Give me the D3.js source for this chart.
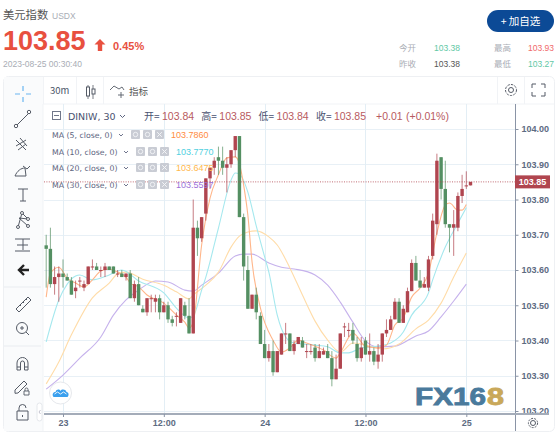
<!DOCTYPE html>
<html><head><meta charset="utf-8">
<script src="https://cdnjs.cloudflare.com/ajax/libs/d3/7.8.5/d3.min.js"></script>
<style>html,body{margin:0;padding:0;background:#fff;overflow:hidden}svg{display:block;font-family:"Noto Sans CJK SC","Liberation Sans",Arial,sans-serif}</style>
</head><body><svg id="c" width="559" height="434"></svg>
<script>
// candles start one step per 30 minutes; index 0 is the "23" tick
const firstIndex = -4;
const opens = [103.67,103.66,103.56,103.58,103.59,103.58,103.57,103.54,103.57,103.55,103.56,103.61,103.61,103.60,103.60,103.61,103.61,103.59,103.59,103.58,103.59,103.52,103.56,103.49,103.48,103.52,103.51,103.52,103.48,103.50,103.46,103.47,103.45,103.50,103.47,103.42,103.72,103.69,103.76,103.86,103.89,103.92,103.91,103.89,103.90,103.94,103.98,103.75,103.60,103.49,103.53,103.47,103.39,103.35,103.37,103.31,103.36,103.42,103.42,103.37,103.39,103.40,103.37,103.37,103.38,103.35,103.36,103.37,103.35,103.29,103.32,103.44,103.43,103.43,103.39,103.35,103.40,103.36,103.37,103.34,103.36,103.42,103.43,103.46,103.51,103.45,103.48,103.54,103.62,103.57,103.55,103.55,103.64,103.73,103.92,103.83,103.73,103.72,103.72,103.81,103.84,103.84];
const highs = [103.70,103.72,103.61,103.61,103.63,103.59,103.58,103.57,103.58,103.57,103.61,103.63,103.62,103.61,103.62,103.61,103.61,103.60,103.60,103.59,103.60,103.57,103.58,103.50,103.52,103.53,103.53,103.53,103.51,103.51,103.47,103.48,103.52,103.51,103.52,103.80,103.74,103.75,103.86,103.89,103.92,103.95,103.95,103.92,103.94,103.98,103.98,103.76,103.64,103.53,103.55,103.48,103.43,103.39,103.40,103.37,103.42,103.45,103.42,103.40,103.41,103.41,103.39,103.39,103.39,103.39,103.38,103.39,103.37,103.36,103.42,103.45,103.45,103.45,103.41,103.41,103.41,103.42,103.38,103.39,103.42,103.46,103.47,103.52,103.52,103.50,103.55,103.63,103.64,103.60,103.58,103.64,103.76,103.93,103.92,103.91,103.73,103.77,103.82,103.87,103.88,103.85];
const lows = [103.55,103.55,103.53,103.51,103.55,103.57,103.53,103.52,103.55,103.54,103.56,103.60,103.60,103.58,103.58,103.60,103.59,103.58,103.58,103.57,103.52,103.51,103.50,103.48,103.47,103.48,103.48,103.46,103.48,103.45,103.44,103.44,103.45,103.46,103.42,103.42,103.64,103.68,103.74,103.83,103.87,103.87,103.87,103.82,103.89,103.92,103.75,103.57,103.49,103.49,103.46,103.39,103.35,103.34,103.30,103.31,103.36,103.39,103.37,103.36,103.39,103.38,103.35,103.36,103.34,103.35,103.36,103.35,103.27,103.29,103.32,103.41,103.41,103.39,103.34,103.34,103.36,103.34,103.33,103.32,103.34,103.41,103.43,103.46,103.45,103.45,103.48,103.54,103.57,103.55,103.55,103.54,103.63,103.70,103.80,103.72,103.65,103.64,103.71,103.79,103.83,103.84];
const closes = [103.66,103.56,103.58,103.59,103.58,103.57,103.53,103.55,103.57,103.56,103.61,103.61,103.60,103.60,103.61,103.60,103.59,103.59,103.58,103.59,103.52,103.56,103.50,103.48,103.52,103.52,103.52,103.48,103.50,103.46,103.45,103.47,103.52,103.47,103.42,103.72,103.69,103.75,103.86,103.89,103.91,103.91,103.89,103.90,103.94,103.98,103.75,103.61,103.49,103.53,103.48,103.39,103.35,103.37,103.31,103.37,103.42,103.42,103.37,103.39,103.41,103.38,103.37,103.37,103.35,103.37,103.37,103.35,103.29,103.32,103.42,103.44,103.43,103.40,103.35,103.38,103.36,103.37,103.34,103.36,103.42,103.43,103.46,103.51,103.45,103.49,103.54,103.62,103.57,103.55,103.56,103.63,103.74,103.91,103.83,103.73,103.72,103.73,103.81,103.83,103.84,103.85];

const ma5Idx = [-4,-3,-1,1,3,5,7,9,11,13,15,16,18,20,24,27,29,30,31,33,35,37,39,41,42,43,44,45,47,50,52,54,56,58,62,65,66,69,72,75,77,79,81,83,85,87,89,91,92,94,95,96];
const ma5Val = [103.523,103.591,103.608,103.577,103.563,103.552,103.572,103.597,103.603,103.594,103.580,103.563,103.552,103.529,103.506,103.472,103.452,103.435,103.452,103.671,103.804,103.870,103.918,103.921,103.901,103.841,103.756,103.623,103.492,103.401,103.367,103.379,103.401,103.393,103.373,103.350,103.365,103.421,103.384,103.379,103.387,103.444,103.464,103.523,103.549,103.591,103.705,103.784,103.790,103.770,103.770,103.786];
const ma10Idx = [-4,-1,1,3,4,7,11,14,18,24,27,30,31,33,34,37,40,41,42,44,46,48,49,51,53,55,60,63,66,68,71,75,78,81,83,87,88,91,94,96];
const ma10Val = [103.396,103.515,103.560,103.583,103.586,103.572,103.586,103.600,103.569,103.535,103.492,103.464,103.469,103.543,103.580,103.719,103.855,103.875,103.872,103.821,103.725,103.637,103.594,103.472,103.410,103.393,103.387,103.382,103.365,103.365,103.379,103.384,103.393,103.424,103.472,103.535,103.572,103.665,103.733,103.777];
const ma20Idx = [-4,-1,2,7,11,13,15,19,24,27,30,31,34,37,40,42,44,46,49,51,54,57,60,63,66,69,72,76,80,84,87,90,93,96];
const ma20Val = [103.277,103.339,103.416,103.521,103.563,103.589,103.594,103.574,103.557,103.538,103.518,103.529,103.557,103.594,103.665,103.696,103.708,103.711,103.694,103.671,103.606,103.529,103.455,103.401,103.367,103.393,103.387,103.376,103.390,103.433,103.458,103.506,103.580,103.648];
const ma30Idx = [-4,0,4,9,12,15,18,22,25,29,31,33,37,41,43,45,49,52,55,60,63,66,69,72,75,79,84,87,90,93,96];
const ma30Val = [103.262,103.302,103.350,103.410,103.472,103.515,103.543,103.569,103.566,103.543,103.540,103.557,103.591,103.640,103.645,103.645,103.620,103.608,103.603,103.586,103.557,103.509,103.452,103.399,103.382,103.384,103.413,103.427,103.467,103.512,103.560];

const priceTicks = [103.2,103.3,103.4,103.5,103.6,103.7,103.8,103.9,104.0];
const timeTicks = [0,24,48,72,96];
const timeLabels = ["23","12:00","24","12:00","25"];
const lastPrice = 103.85;
const maNames = ["MA (5, close, 0)","MA (10, close, 0)","MA (20, close, 0)","MA (30, close, 0)"];
const maLabels = ["103.7860","103.7770","103.6475","103.5597"];
const maColors = ["#ffb68a","#a5e8ee","#ffdca8","#c6b2ec"];
const maTextColors = ["#ff8c42","#4fd0e0","#ffb84d","#9a6fd8"];

const RED="#b0454f", GREEN="#548f62";
const svg=d3.select("#c");
const x=d3.scaleLinear().domain([0,96]).range([63,466.3]);
const y=d3.scaleLinear().domain([103.2,104]).range([411,129]);
const L=44,R=515,T=104,B=414;

// frame
svg.append("rect").attr("x",3.5).attr("y",76.5).attr("width",551).attr("height",355).attr("rx",5).attr("fill","#fff").attr("stroke","#eef0f3");
svg.append("rect").attr("x",4).attr("y",77).attr("width",39).attr("height",354).attr("fill","#fafbfc");
svg.append("line").attr("x1",43).attr("x2",554).attr("y1",104).attr("y2",104).attr("stroke","#f1f3f6");
[43,76,103,497,524].forEach(v=>svg.append("line").attr("x1",v+.5).attr("x2",v+.5).attr("y1",77).attr("y2",104).attr("stroke","#f1f3f6"));

// grid
const grid=svg.append("g");
grid.selectAll("line.h").data(priceTicks).join("line").attr("x1",L).attr("x2",R).attr("y1",d=>Math.round(y(d))+.5).attr("y2",d=>Math.round(y(d))+.5).attr("stroke","#e8f0f6");
grid.selectAll("line.v").data(timeTicks).join("line").attr("class","v").attr("y1",T).attr("y2",B).attr("x1",d=>Math.round(x(d))+.5).attr("x2",d=>Math.round(x(d))+.5).attr("stroke","#e3eef5");

// moving averages
const line=d3.line().curve(d3.curveMonotoneX);
[[ma30Idx,ma30Val,3],[ma20Idx,ma20Val,2],[ma10Idx,ma10Val,1],[ma5Idx,ma5Val,0]].forEach(([ix,v,k])=>{
  svg.append("path").attr("fill","none").attr("stroke",maColors[k]).attr("stroke-width",1.1).attr("d",line(ix.map((d,i)=>[x(d),y(v[i])])));
});

// candles
const idx=opens.map((_,i)=>i+firstIndex);
const g=svg.append("g");
g.selectAll("line").data(idx).join("line")
 .attr("x1",d=>x(d)).attr("x2",d=>x(d))
 .attr("y1",d=>y(highs[d-firstIndex])).attr("y2",d=>y(lows[d-firstIndex]))
 .attr("stroke",d=>closes[d-firstIndex]>=opens[d-firstIndex]?RED:GREEN).attr("stroke-width",1).attr("opacity",.7);
g.selectAll("rect").data(idx).join("rect")
 .attr("x",d=>x(d)-1.7).attr("width",3.4)
 .attr("y",d=>y(Math.max(opens[d-firstIndex],closes[d-firstIndex])))
 .attr("height",d=>Math.max(1,Math.abs(y(opens[d-firstIndex])-y(closes[d-firstIndex]))))
 .attr("fill",d=>closes[d-firstIndex]>=opens[d-firstIndex]?RED:GREEN);

// last price line
svg.append("line").attr("x1",L).attr("x2",R).attr("y1",y(lastPrice)).attr("y2",y(lastPrice)).attr("stroke","#b0454f").attr("stroke-width",.8).attr("stroke-dasharray","1 1.4");

// axes
const ya=svg.append("g").attr("transform",`translate(${R+.5},0)`).call(d3.axisRight(y).tickValues(priceTicks).tickFormat(d3.format(".2f")).tickSize(3).tickSizeOuter(0));
ya.select(".domain").attr("stroke","#8a94a6").attr("d",`M0,${T}V${431}`);
ya.selectAll(".tick line").attr("stroke","#8a94a6");
ya.selectAll(".tick text").attr("x",6).attr("fill","#5d6b82").attr("font-size",9).attr("font-family","Liberation Sans,Arial,sans-serif").attr("font-weight",600);
const xa=svg.append("g").attr("transform",`translate(0,${B})`).call(d3.axisBottom(x).tickValues(timeTicks).tickFormat((d,i)=>timeLabels[i]).tickSize(3).tickSizeOuter(0));
xa.select(".domain").attr("stroke","#a4acb9").attr("stroke-width",2).attr("d",`M${L},0H549`);
xa.selectAll(".tick line").attr("stroke","#8a94a6");
xa.selectAll(".tick text").attr("y",6).attr("fill","#5d6b82").attr("font-size",9).attr("font-family","Liberation Sans,Arial,sans-serif").attr("font-weight",600);
svg.append("line").attr("x1",43).attr("x2",43).attr("y1",104).attr("y2",431).attr("stroke","#f1f3f6");

// last price tag
svg.append("rect").attr("x",515).attr("y",y(lastPrice)-6.5).attr("width",35).attr("height",13).attr("fill",RED);
const txt=(s,px,py,size,fill,weight,anchor)=>svg.append("text").text(s).attr("x",px).attr("y",py).attr("font-size",size).attr("fill",fill).attr("font-weight",weight||400).attr("text-anchor",anchor||"start");
txt(lastPrice.toFixed(2),532.5,y(lastPrice)+3.2,9,"#fff",600,"middle").attr("font-family","Liberation Sans,Arial,sans-serif");

// header
txt("美元指数",3,19,11.3,"#555");
txt("USDX",52,19,8.5,"#a9adb5").attr("font-family","Liberation Sans,Arial,sans-serif");
txt("103.85",3,50,27,"#e8503f",700).attr("font-family","Liberation Sans,Arial,sans-serif");
svg.append("path").attr("d","M100 39l5.5 5.5h-3.3v6.5h-4.4v-6.5h-3.3z").attr("fill","#e8503f");
txt("0.45%",113,50,11,"#e8503f",700).attr("font-family","Liberation Sans,Arial,sans-serif");
txt("2023-08-25 00:30:40",3,67,8.5,"#a9adb5").attr("font-family","Liberation Sans,Arial,sans-serif");
svg.append("rect").attr("x",487).attr("y",10).attr("width",67).attr("height",22).attr("rx",11).attr("fill","#0c4a96");
txt("+ 加自选",520.5,25,10.5,"#fff",400,"middle");
[["今开",399,51,"103.38",434,"#62c8a5"],["最高",494,51,"103.93",528,"#f0696a"],["昨收",399,67,"103.38",434,"#555"],["最低",494,67,"103.27",528,"#62c8a5"]].forEach(r=>{
  txt(r[0],r[1],r[2],8.5,"#a9adb5");
  txt(r[3],r[4],r[2],8.5,r[5]).attr("font-family","Liberation Sans,Arial,sans-serif");
});

// toolbar
const ico=(d,w,c)=>svg.append("path").attr("d",d).attr("fill","none").attr("stroke",c||"#555b66").attr("stroke-width",w||1);
ico("M23 86v5M23 97v5M15 94h5M26 94h5",1.2,"#6ab6f0");
txt("30m",50,94,9.5,"#4a5568");
ico("M88 85v14M93 85v14",.8); svg.append("rect").attr("x",86.5).attr("y",87).attr("width",3).attr("height",9).attr("fill","#fff").attr("stroke","#555b66");
svg.append("rect").attr("x",92).attr("y",89).attr("width",3).attr("height",5).attr("fill","#fff").attr("stroke","#555b66");
ico("M110 90l4-4 5 3 3-2 2 3M121 92v6M118 95h6",.9);
txt("指标",129,95,9.5,"#555");
svg.append("circle").attr("cx",511).attr("cy",90).attr("r",2.5).attr("fill","none").attr("stroke","#555b66");
svg.append("circle").attr("cx",511).attr("cy",90).attr("r",5.5).attr("fill","none").attr("stroke","#555b66").attr("stroke-dasharray","2.4 1.2");
ico("M532 88v-4h4M541 84h4v4M545 92v4h-4M536 96h-4v-4",1);

// left tools
ico("M17 125l12-12",1); [[16,126],[29,112]].forEach(p=>svg.append("circle").attr("cx",p[0]).attr("cy",p[1]).attr("r",1.7).attr("fill","#fff").attr("stroke","#555b66"));
ico("M16 140l10 10M16 146l10-6M20 138l7 8M18 150l8-6",1);
ico("M15 176c2-5 6-8 10-8l1 8zM23 166l4 3 3-3",1);
ico("M18 189h10M23 189v12M20 201h6",1);
ico("M18 227l4-14 6 6-9-1 9 8",1); [[18,227],[22,213],[28,219],[28,226]].forEach(p=>svg.append("circle").attr("cx",p[0]).attr("cy",p[1]).attr("r",1.5).attr("fill","#fff").attr("stroke","#555b66"));
ico("M15 239h15M23 239v11M17 245h11M15 251h15",1);
ico("M29 270h-9M24 265l-5 5 5 5",2.4,"#222");
ico("M16 309l12-12 3 3-12 12zM20 305l1 1M23 302l1 1M26 299l1 1",1);
svg.append("circle").attr("cx",22).attr("cy",328).attr("r",5.5).attr("fill","none").attr("stroke","#555b66");
ico("M26 332l3 3M20 328h4M22 326v4",1);
ico("M17 370v-7a5.5 5.5 0 0 1 11 0v7h-3.5v-7a2 2 0 0 0-4 0v7zM17 367h3.5M24.5 367H28",1);
ico("M15 390l9-9 3 3-9 9-3 .3z",1);
ico("M24 391h5v4h-5zM25 391v-1.5a1.5 1.5 0 0 1 3 0V391",.9);
ico("M17 411h11v9H17zM19 411v-3a3.5 3.5 0 0 1 7 0M22.5 415v2",1);
svg.append("rect").attr("x",37).attr("y",403).attr("width",5).attr("height",18).attr("rx",2.5).attr("fill","#fff").attr("stroke","#e5e8ec");
ico("M40.5 410l-1.5 2 1.5 2",.7,"#aab");
[287,346].forEach(v=>svg.append("line").attr("x1",4).attr("x2",41).attr("y1",v).attr("y2",v).attr("stroke","#e9ecf0"));

// cloud button
svg.append("circle").attr("cx",60.5).attr("cy",393).attr("r",11).attr("fill","#fff").attr("stroke","#e6e8ec");
svg.append("path").attr("d","M53.5 397c-2-3 0-5 2-5 1-3 4-3 5-1 1-2 5-2 6 1 2 0 3 3 1 5z").attr("fill","#3ba0ee");
ico("M54.5 394l3-2 3 2 3-2 3 2",.9,"#fff");

// legend
svg.append("rect").attr("x",52.5).attr("y",111.5).attr("width",8).attr("height",8).attr("fill","none").attr("stroke","#70778a");
svg.append("line").attr("x1",54).attr("x2",59).attr("y1",115.5).attr("y2",115.5).attr("stroke","#70778a");
txt("DINIW, 30",68,120,10.5,"#4a5270",500).attr("font-family","DejaVu Sans,sans-serif").attr("font-size",9.5);
ico("M120 115l2.5 2.5 2.5-2.5",.9,"#4a5270");
const RV="#b85a60";
let ox=144;
[["开=","103.84"],["高=","103.85"],["低=","103.84"],["收=","103.85"]].forEach(p=>{
  txt(p[0],ox,120,10,"#4a5270");
  txt(p[1],ox+18,120,10.5,RV).attr("font-family","Liberation Sans,Arial,sans-serif");
  ox+=57.3;
});
txt("+0.01",376,120,10.5,RV).attr("font-family","Liberation Sans,Arial,sans-serif");
txt("(+0.01%)",406,120,10.5,RV).attr("font-family","Liberation Sans,Arial,sans-serif");
[135,152,168,185].forEach((py,i)=>{
  const ex=i?5:0;
  txt(maNames[i],52,py+3,8.5,"#5d6580").attr("font-family","DejaVu Sans,sans-serif").attr("font-size",7.8);
  ico(`M${119+ex} ${py-1}l2 2 2-2`,.8,"#4a5270");
  [131,143,155].forEach(bx=>{
    svg.append("rect").attr("x",bx+ex).attr("y",py-5).attr("width",9).attr("height",9).attr("rx",1).attr("fill","#c9ccd4");
    if(bx<155) svg.append("circle").attr("cx",bx+ex+4.5).attr("cy",py-.5).attr("r",2.2).attr("fill","none").attr("stroke","#f4f5f7").attr("stroke-width",.9);
    else ico(`M${bx+ex+2.2} ${py-2.8}l4.6 4.6m0-4.6l-4.6 4.6`,1,"#f4f5f7");
  });
  txt(maLabels[i],i?176:171,py+3,9,maTextColors[i]).attr("font-family","Liberation Sans,Arial,sans-serif");
});

// watermark
txt("FX16",415,405,23,"#4a7a9c",700).attr("font-family","Liberation Sans,Arial,sans-serif").attr("textLength",71).attr("lengthAdjust","spacingAndGlyphs").attr("stroke","#4a7a9c").attr("stroke-width",.8);
txt("8",487,405,23,"#c9a85a",700).attr("font-family","Liberation Sans,Arial,sans-serif").attr("textLength",17).attr("lengthAdjust","spacingAndGlyphs").attr("stroke","#c9a85a").attr("stroke-width",.8);

// axis gear
svg.append("circle").attr("cx",533).attr("cy",423).attr("r",2.5).attr("fill","none").attr("stroke","#555b66");
svg.append("circle").attr("cx",533).attr("cy",423).attr("r",4.6).attr("fill","none").attr("stroke","#555b66").attr("stroke-dasharray","2 1.2");
</script></body></html>
